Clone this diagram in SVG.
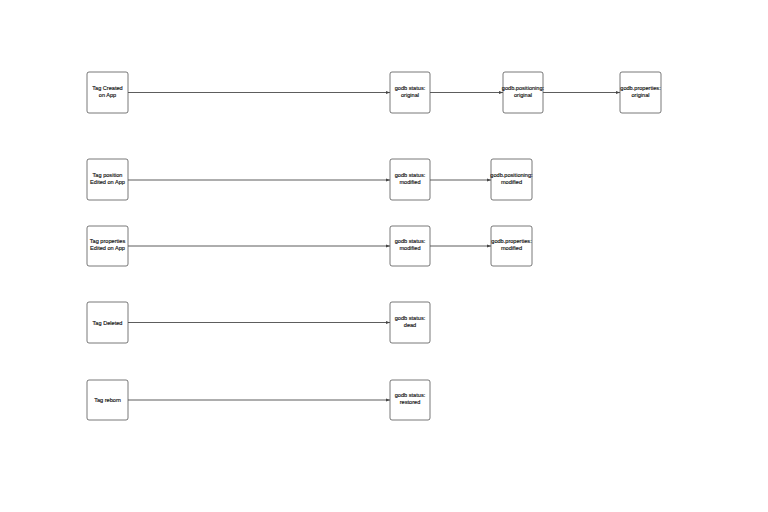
<svg xmlns="http://www.w3.org/2000/svg" width="768" height="512" viewBox="0 0 768 512">
<style>
.n rect{fill:#fff;stroke:#555;stroke-width:0.8}
.n text{font-family:"Liberation Sans",Arial,sans-serif;font-size:5.6px;fill:#111;text-anchor:middle;stroke:#111;stroke-width:0.15}
.c line{stroke:#333;stroke-width:0.8;fill:none;marker-end:url(#a)}
</style>
<defs>
<marker id="a" markerWidth="6" markerHeight="6" refX="4" refY="3" orient="auto" markerUnits="userSpaceOnUse">
<path d="M0,1.500 L4,3 L0,4.500 Z" fill="#444"/>
</marker>
</defs>
<rect width="768" height="512" fill="#fff"/>
<g class="c">
<line x1="128" y1="92.500" x2="390" y2="92.500"/>
<line x1="430" y1="92.500" x2="503" y2="92.500"/>
<line x1="543" y1="92.500" x2="620" y2="92.500"/>
<line x1="128" y1="180" x2="390" y2="180"/>
<line x1="430" y1="180" x2="491" y2="180"/>
<line x1="128" y1="246" x2="390" y2="246"/>
<line x1="430" y1="246" x2="491" y2="246"/>
<line x1="128" y1="322.500" x2="390" y2="322.500"/>
<line x1="128" y1="400" x2="390" y2="400"/>
</g>
<g id="n1" class="n"><rect x="87" y="72" width="41" height="41" rx="2"/><text x="107.500" y="90">Tag Created</text><text x="107.500" y="97">on App</text></g>
<g id="n2" class="n"><rect x="390" y="72" width="40" height="41" rx="2"/><text x="410" y="90">godb status:</text><text x="410" y="97">original</text></g>
<g id="n3" class="n"><rect x="503" y="72" width="40" height="41" rx="2"/><text x="523" y="90">godb.positioning:</text><text x="523" y="97">original</text></g>
<g id="n4" class="n"><rect x="620" y="72" width="41" height="41" rx="2"/><text x="640.500" y="90">godb.properties:</text><text x="640.500" y="97">original</text></g>
<g id="n5" class="n"><rect x="87" y="159" width="41" height="41" rx="2"/><text x="107.500" y="177">Tag position</text><text x="107.500" y="184">Edited on App</text></g>
<g id="n6" class="n"><rect x="390" y="159" width="40" height="41" rx="2"/><text x="410" y="177">godb status:</text><text x="410" y="184">modified</text></g>
<g id="n7" class="n"><rect x="491" y="159" width="41" height="41" rx="2"/><text x="511.500" y="177">godb.positioning:</text><text x="511.500" y="184">modified</text></g>
<g id="n8" class="n"><rect x="87" y="226" width="41" height="40" rx="2"/><text x="107.500" y="243">Tag properties</text><text x="107.500" y="250">Edited on App</text></g>
<g id="n9" class="n"><rect x="390" y="226" width="40" height="40" rx="2"/><text x="410" y="243">godb status:</text><text x="410" y="250">modified</text></g>
<g id="n10" class="n"><rect x="491" y="226" width="41" height="40" rx="2"/><text x="511.500" y="243">godb.properties:</text><text x="511.500" y="250">modified</text></g>
<g id="n11" class="n"><rect x="87" y="302" width="41" height="41" rx="2"/><text x="107.500" y="324.500">Tag Deleted</text></g>
<g id="n12" class="n"><rect x="390" y="302" width="40" height="41" rx="2"/><text x="410" y="320">godb status:</text><text x="410" y="327">dead</text></g>
<g id="n13" class="n"><rect x="87" y="380" width="41" height="40" rx="2"/><text x="107.500" y="402">Tag reborn</text></g>
<g id="n14" class="n"><rect x="390" y="380" width="40" height="40" rx="2"/><text x="410" y="397">godb status:</text><text x="410" y="404">restored</text></g>
</svg>
